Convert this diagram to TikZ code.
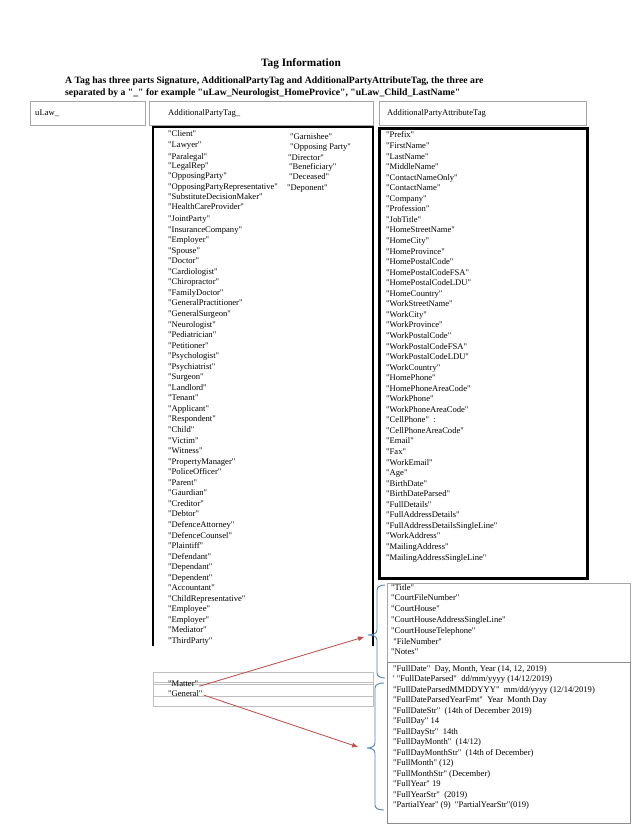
\documentclass[tikz,border=0pt]{standalone}
\usepackage{fontspec}
\setmainfont{Liberation Serif}[Ligatures=TeXOff]
\usetikzlibrary{arrows.meta}
\definecolor{arrred}{RGB}{192,80,77}
\definecolor{braceblue}{RGB}{79,129,189}
\begin{document}
\begin{tikzpicture}[x=1pt,y=-1pt,
  lbl/.style={anchor=base west,inner sep=0pt,font=\fontsize{8.6}{10}\selectfont},
  hdrbox/.style={draw=black!35,line width=0.7pt,anchor=north west,inner sep=0pt},
  listbox/.style={draw=black,line width=2.6pt,line join=miter},
  infobox/.style={draw=black!45,line width=0.7pt,fill=white,anchor=north west,inner sep=0pt},
  tablerule/.style={draw=black!25,line width=0.6pt},
  linkarrow/.style={draw=arrred,line width=0.8pt,-{Triangle[length=6pt,width=4.5pt]},fill=arrred},
  bracket/.style={draw=braceblue,line width=0.9pt}]
\useasboundingbox (0,0) rectangle (638,826);
\fill[white] (0,0) rectangle (638,826);

% title
\node[anchor=base,inner sep=0pt,font=\bfseries\fontsize{11.3}{13}\selectfont] (title) at (301,67) {Tag Information};
\node[anchor=base west,inner sep=0pt,font=\bfseries\fontsize{9.7}{11}\selectfont] (sub1) at (65,84)
  {A Tag has three parts Signature, AdditionalPartyTag and AdditionalPartyAttributeTag, the three are};
\node[anchor=base west,inner sep=0pt,font=\bfseries\fontsize{9.7}{11}\selectfont] (sub2) at (65,96)
  {separated by a "\_" for example "uLaw\_Neurologist\_HomeProvice", "uLaw\_Child\_LastName"};

% header boxes
\node[hdrbox,minimum width=115pt,minimum height=24pt] (ulawbox) at (30,101) {};
\node[hdrbox,minimum width=224pt,minimum height=24pt] (aptbox) at (149,101) {};
\node[hdrbox,minimum width=207pt,minimum height=24pt] (apatbox) at (379,101) {};
\node[lbl] (ulawlbl) at (35,116) {uLaw\_};
\node[lbl] (aptlbl) at (168,116) {AdditionalPartyTag\_};
\node[lbl] (apatlbl) at (387,116) {AdditionalPartyAttributeTag};

% party list box (open at bottom)
\draw[listbox] (153,646) -- (153,127) -- (373,127) -- (373,646);
% attribute list box
\node[listbox,anchor=north west,inner sep=0pt,minimum width=208pt,minimum height=450pt] (attrbox) at (378,127) {};

% party list, irregular top part
\node[lbl] (pa1) at (168,137) {"Client"};
\node[lbl] (pa2) at (168,148) {"Lawyer"};
\node[lbl] (pa3) at (168,160) {"Paralegal"};
\node[lbl] (pa4) at (168,168.5) {"LegalRep"};
\node[lbl] (pa5) at (168,179) {"OpposingParty"};
\node[lbl] (pa6) at (168,189.5) {"OpposingPartyRepresentative"};
\node[lbl] (pa7) at (168,199.5) {"SubstituteDecisionMaker"};
\node[lbl] (pa8) at (168,210) {"HealthCareProvider"};
\foreach \t [count=\i, evaluate=\i as \yy using 221.5+(\i-1)*10.55] in
  {JointParty,InsuranceCompany,Employer,Spouse,Doctor,Cardiologist,Chiropractor,FamilyDoctor,
   GeneralPractitioner,GeneralSurgeon,Neurologist,Pediatrician,Petitioner,Psychologist,Psychiatrist,
   Surgeon,Landlord,Tenant,Applicant,Respondent,Child,Victim,Witness,PropertyManager,PoliceOfficer,
   Parent,Gaurdian,Creditor,Debtor,DefenceAttorney,DefenceCounsel,Plaintiff,Defendant,Dependant,
   Dependent,Accountant,ChildRepresentative,Employee,Employer,Mediator,ThirdParty}
  \node[lbl] (pl\i) at (168,\yy) {"\t"};
% party list right column
\node[lbl] (pr1) at (290,140) {"Garnishee"};
\node[lbl] (pr2) at (290,150) {"Opposing Party"};
\node[lbl] (pr3) at (288,161) {"Director"};
\node[lbl] (pr4) at (289,169.5) {"Beneficiary"};
\node[lbl] (pr5) at (289,180) {"Deceased"};
\node[lbl] (pr6) at (287,191) {"Deponent"};

% attribute list
\foreach \t [count=\i, evaluate=\i as \yy using 138+(\i-1)*10.55] in
  {"Prefix","FirstName","LastName","MiddleName","ContactNameOnly","ContactName","Company",
   "Profession","JobTitle","HomeStreetName","HomeCity","HomeProvince","HomePostalCode",
   "HomePostalCodeFSA","HomePostalCodeLDU","HomeCountry","WorkStreetName","WorkCity",
   "WorkProvince","WorkPostalCode","WorkPostalCodeFSA","WorkPostalCodeLDU","WorkCountry",
   "HomePhone","HomePhoneAreaCode","WorkPhone","WorkPhoneAreaCode",{"CellPhone"\ \ :},
   "CellPhoneAreaCode","Email","Fax","WorkEmail","Age","BirthDate","BirthDateParsed",
   "FullDetails","FullAddressDetails","FullAddressDetailsSingleLine","WorkAddress",
   "MailingAddress","MailingAddressSingleLine"}
  \node[lbl] (at\i) at (386,\yy) {\t};

% box A
\node[infobox,draw=black!35,minimum width=243pt,minimum height=91pt] (boxA) at (387,583) {};
\foreach \t [count=\i, evaluate=\i as \yy using 590+(\i-1)*10.8] in
  {"Title","CourtFileNumber","CourtHouse","CourtHouseAddressSingleLine","CourtHouseTelephone",
   \ "FileNumber","Notes"}
  \node[lbl] (ba\i) at (391,\yy) {\t};

% box B
\node[infobox,minimum width=243pt,minimum height=161pt] (boxB) at (387,662) {};
\foreach \t [count=\i, evaluate=\i as \yy using 671+(\i-1)*10.5] in
  {{"FullDate"\ \ Day, Month, Year (14, 12, 2019)},
   {'\ "FullDateParsed"\ \ dd/mm/yyyy (14/12/2019)},
   {"FullDateParsedMMDDYYY"\ \ mm/dd/yyyy (12/14/2019)},
   {"FullDateParsedYearFmt"\ \ Year\ \ Month Day},
   {"FullDateStr"\ \ (14th of December 2019)},
   {"FullDay" 14},
   {"FullDayStr"\ \ 14th},
   {"FullDayMonth"\ \ (14/12)},
   {"FullDayMonthStr"\ \ (14th of December)},
   {"FullMonth" (12)},
   {"FullMonthStr" (December)},
   {"FullYear" 19},
   {"FullYearStr"\ \ (2019)},
   {"PartialYear" (9)\ \ "PartialYearStr"(019)}}
  \node[lbl] (bb\i) at (393,\yy) {\t};

% Matter / General table
\node[draw=black!25,line width=0.6pt,anchor=north west,inner sep=0pt,minimum width=220pt,minimum height=34pt] (mgtable) at (153,672) {};
\draw[tablerule] (mgtable.west |- 0,682) -- (mgtable.east |- 0,682);
\draw[tablerule] (mgtable.west |- 0,684) -- (mgtable.east |- 0,684);
\draw[tablerule] (mgtable.west |- 0,696) -- (mgtable.east |- 0,696);
\node[lbl] (matter) at (168,686) {"Matter"};
\node[lbl] (general) at (168,696) {"General"};

% blue brackets
\draw[bracket] (385,585) to[out=180,in=90] (377,590) -- (377,630) to[out=-90,in=0] (368,635)
  to[out=0,in=90] (377,640) -- (377,673) to[out=-90,in=180] (385,678);
\draw[bracket] (384,683) to[out=180,in=90] (375,688) -- (375,743) to[out=-90,in=0] (367,748)
  to[out=0,in=90] (375,753) -- (375,805) to[out=-90,in=180] (384,810);

% red arrows
\coordinate (t1) at (364,637);
\coordinate (t2) at (358,747);
\draw[linkarrow] ([xshift=1pt,yshift=-3pt]matter.east) -- (t1);
\draw[linkarrow] ([xshift=1pt,yshift=-2pt]general.east) -- (t2);
\end{tikzpicture}
\end{document}
